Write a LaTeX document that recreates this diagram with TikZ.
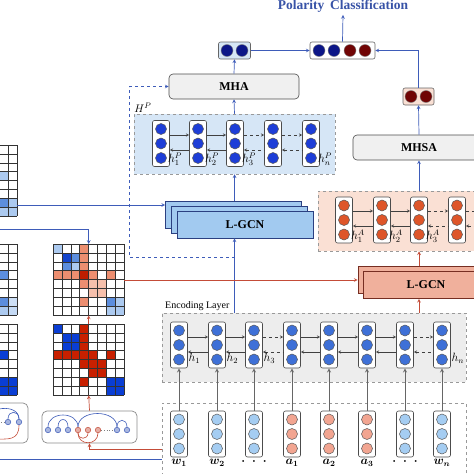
\documentclass[tikz,border=0pt]{standalone}
\usepackage{amsmath}
\usepackage{fontspec}
\setmainfont{Liberation Serif}
\usetikzlibrary{calc,arrows,positioning}

\definecolor{hpblue}{RGB}{30,62,215}
\definecolor{hablue}{RGB}{62,112,215}
\definecolor{hared}{RGB}{222,86,42}
\definecolor{inblue}{RGB}{165,205,242}
\definecolor{insal}{RGB}{242,165,145}
\definecolor{navy}{RGB}{12,22,135}
\definecolor{maroon}{RGB}{112,4,4}
\definecolor{lineblue}{RGB}{62,92,185}
\definecolor{linered}{RGB}{196,76,56}
\definecolor{gcnblue}{RGB}{162,202,240}
\definecolor{gcnred}{RGB}{240,176,156}
\definecolor{hpfill}{RGB}{214,230,246}
\definecolor{hafill}{RGB}{250,224,212}
\definecolor{mLB}{RGB}{172,202,240}
\definecolor{mMB}{RGB}{92,142,222}
\definecolor{mDB}{RGB}{18,68,205}
\definecolor{mSal}{RGB}{236,142,112}
\definecolor{mLSal}{RGB}{246,192,172}
\definecolor{mDR}{RGB}{190,30,0}
\definecolor{mBB}{RGB}{10,62,212}
\definecolor{mBR}{RGB}{200,32,0}

\tikzset{
  cellbox/.style={draw=black!70, rounded corners=2pt, fill=white, minimum width=17pt, minimum height=46pt, inner sep=0pt, line width=0.6pt},
  dot/.style={circle, draw=black!65, inner sep=0pt, minimum size=11pt, line width=0.5pt},
  bigdot/.style={circle, draw=black!50, inner sep=0pt, minimum size=12pt, line width=0.4pt},
  tdot/.style={circle, inner sep=0pt, minimum size=5.5pt, line width=0.5pt},
  layerbox/.style={draw=black!70, rounded corners=4pt, fill=black!6, inner sep=0pt, line width=0.6pt, font=\fontsize{12}{14}\selectfont\bfseries},
  gcnbox/.style={inner sep=0pt, minimum width=136pt, minimum height=27pt, line width=0.6pt, font=\fontsize{12}{14}\selectfont\bfseries},
  region/.style={draw=black!40, dashed, line width=0.5pt, inner sep=0pt},
  outbox/.style={draw=black!60, rounded corners=2pt, line width=0.6pt, minimum height=17pt, inner sep=0pt},
  gridline/.style={draw=black!80, line width=0.45pt},
  blueline/.style={draw=lineblue, line width=0.7pt},
  redline/.style={draw=linered, line width=0.7pt},
  lab/.style={inner sep=0pt, font=\fontsize{12}{12}\selectfont},
  >=stealth
}

% column of three circles in a rounded cell
\newcommand{\vcell}[4]{%
  \node[cellbox] (#1) at (#2,#3) {};
  \node[dot,fill=#4] (#1-1) at (#2,#3-14.5) {};
  \node[dot,fill=#4] (#1-2) at (#2,#3) {};
  \node[dot,fill=#4] (#1-3) at (#2,#3+14.5) {};
}

% 8x8 adjacency matrix
\def\cs{8.875}
\newcommand{\gridmat}[4]{%
  \node[inner sep=0pt, minimum size=71pt, anchor=north west] (#1) at (#2,#3) {};
  \foreach \r/\c/\cl in {#4} \fill[\cl] (#2+\c*\cs,#3+\r*\cs) rectangle +(\cs,\cs);
  \foreach \k in {0,...,8} {
    \draw[gridline] (#2+\k*\cs,#3) -- +(0,8*\cs);
    \draw[gridline] (#2,#3+\k*\cs) -- +(8*\cs,0);
  }
}

\begin{document}
\begin{tikzpicture}[x=1pt,y=-1pt]
\useasboundingbox (0,0) rectangle (474,474);
\clip (0,0) rectangle (474,474);

%regions
\node[region, fill=hpfill, minimum width=201pt, minimum height=60pt] (hp) at (234.5,144) {};
\node[region, fill=hafill, minimum width=202pt, minimum height=60pt] (ha) at (419,221) {};
\node[region, fill=black!7, minimum width=304pt, minimum height=69pt] (enc) at (314,347.5) {};
\node[region, fill=white, minimum width=304pt, minimum height=90pt] (inp) at (314,448) {};
\node[anchor=south west, inner sep=0pt, font=\fontsize{10}{10}\selectfont] (enclab) at (165,311) {Encoding Layer};
\node[inner sep=0pt, font=\fontsize{11}{11}\selectfont] (hplab) at (143,108) {$H^P$};

%input layer
\foreach \i/\x/\c/\t in {1/179/inblue/{$w_1$},2/217/inblue/{$w_2$},3/254/inblue/{$\cdot\;\cdot\;\cdot$},4/292/insal/{$a_1$},5/329/insal/{$a_2$},6/367/insal/{$a_3$},7/405/inblue/{$\cdot\;\cdot\;\cdot$},8/442/inblue/{$w_n$}} {
  \vcell{w\i}{\x}{434}{\c}
  \node[below=1.5pt of w\i, inner sep=0pt, font=\fontsize{11.5}{11.5}\selectfont\boldmath] (wl\i) {\t};
}

%encoding layer
\foreach \i/\x in {1/179,2/217,3/254,4/292,5/329,6/367,7/405,8/442} {
  \vcell{e\i}{\x}{345}{hablue}
  \draw[->, draw=black!60, line width=0.9pt] (w\i.north) -- (e\i.south);
}
\foreach \i/\j/\s in {1/2/solid,2/3/solid,3/4/dashed,4/5/solid,5/6/solid,6/7/solid,7/8/dashed} {
  \draw[->, black!75, \s, line width=0.5pt] ([yshift=8pt]e\i.east) -- ([yshift=8pt]e\j.west);
  \draw[<-, black!75, \s, line width=0.5pt] ([yshift=-7pt]e\i.east) -- ([yshift=-7pt]e\j.west);
}
\foreach \i/\t in {1/{$h_1$},2/{$h_2$},3/{$h_3$},8/{$h_n$}}
  \node[lab, anchor=west] (el\i) at ([xshift=0.5pt,yshift=-13pt]e\i.east) {\t};

%H^P
\foreach \i/\x in {1/161,2/198,3/235,4/273,5/311} {
  \vcell{p\i}{\x}{143.5}{hpblue}
}
\foreach \i/\j/\s in {1/2/solid,2/3/solid,3/4/dashed,4/5/dashed} {
  \draw[->, black!75, \s, line width=0.5pt] ([yshift=8.5pt]p\i.east) -- ([yshift=8.5pt]p\j.west);
  \draw[<-, black!75, \s, line width=0.5pt] ([yshift=-6.5pt]p\i.east) -- ([yshift=-6.5pt]p\j.west);
}
\foreach \i/\t in {1/{$h_1^P$},2/{$h_2^P$},3/{$h_3^P$},5/{$h_n^P$}}
  \node[lab, anchor=west] (pl\i) at ([xshift=-2pt,yshift=-16pt]p\i.east) {\t};

%H^A
\foreach \i/\x in {1/344,2/382,3/419,4/457} {
  \vcell{a\i}{\x}{220}{hared}
}
\coordinate (aend) at ([xshift=25pt]a4.east);
\foreach \i/\j/\s in {1/2/solid,2/3/solid,3/4/dashed} {
  \draw[->, black!75, \s, line width=0.5pt] ([yshift=9pt]a\i.east) -- ([yshift=9pt]a\j.west);
  \draw[<-, black!75, \s, line width=0.5pt] ([yshift=-6pt]a\i.east) -- ([yshift=-6pt]a\j.west);
}
\draw[->, black!75, dashed, line width=0.5pt] ([yshift=9pt]a4.east) -- ([yshift=9pt]aend);
\draw[<-, black!75, dashed, line width=0.5pt] ([yshift=-6pt]a4.east) -- ([yshift=-6pt]aend);
\foreach \i/\t in {1/{$h_1^A$},2/{$h_2^A$},3/{$h_3^A$}}
  \node[lab, anchor=west] (al\i) at ([xshift=-2pt,yshift=-16pt]a\i.east) {\t};

%L-GCN blue
\node[gcnbox, fill=gcnblue, draw=lineblue!70!black] (lg3) at (233.5,214.5) {};
\node[gcnbox, fill=gcnblue, draw=lineblue!70!black] (lg2) at (239,219.5) {};
\node[gcnbox, fill=gcnblue, draw=lineblue!70!black] (lg1) at (245,224.5) {L-GCN};
%L-GCN red
\node[gcnbox, minimum width=126pt, fill=gcnred, draw=linered!60!black] (lr2) at (421,280) {};
\node[gcnbox, minimum width=126pt, fill=gcnred, draw=linered!60!black] (lr1) at (426,285) {L-GCN};

%attention
\node[layerbox, minimum width=130pt, minimum height=25pt] (mha) at (234,86.5) {MHA};
\node[layerbox, minimum width=132pt, minimum height=25pt] (msa) at (419,147.5) {MHSA};

%outputs
\node[outbox, fill=hpfill, minimum width=32pt] (pout) at (234.5,50.5) {};
\node[bigdot, fill=navy] (pout-1) at (227,50.5) {};
\node[bigdot, fill=navy] (pout-2) at (242,50.5) {};
\node[outbox, fill=white, minimum width=65pt] (cat) at (342.5,50.5) {};
\foreach \i/\x/\c in {1/319/navy,2/334/navy,3/350/maroon,4/365/maroon}
  \node[bigdot, fill=\c] (cat-\i) at (\x,50.5) {};
\node[outbox, fill=hafill, minimum width=31pt] (aout) at (418.5,96.5) {};
\node[bigdot, fill=maroon] (aout-1) at (411,96.5) {};
\node[bigdot, fill=maroon] (aout-2) at (426,96.5) {};
\node[inner sep=2pt, text=lineblue!90!black, font=\fontsize{13.5}{15}\selectfont\bfseries] (pol) at (343,6.5) {Polarity\, Classification};

%connections top
\draw[->, blueline] (cat.north) -- (pol.south);
\draw[->, blueline] (pout.east) -- (cat.west);
\draw[->, blueline] (aout.north) |- (cat.east);
\draw[->, blueline] (msa.north) -- (aout.south);
\draw[->, blueline] (mha.north) -- (pout.south);
\draw[->, blueline] (hp.north) -- (mha.south);
\draw[->, blueline] (lg3.north -| hp) -- (hp.south);
\draw[->, blueline] (enc.north -| hp) -- (lg1.south -| hp);
\coordinate (res) at (234.5,257);
\coordinate (rescorner) at (129,86.5);
\draw[->, blueline, dashed] (res) -| (rescorner) -- (mha.west);
\draw[->, blueline] (ha.north) -- (msa.south);
\draw[->, redline] (lr2.north -| ha) -- (ha.south);
\draw[->, redline] (enc.north -| ha) -- (lr1.south -| ha);

%matrices left
\gridmat{matA}{-54}{145}{3/6/mLB,6/6/mMB,6/7/mLB,7/6/mLB,7/7/mLB}
\gridmat{matB}{-54}{244}{3/6/mMB,6/6/mMB,6/7/mLB!60,7/6/mLB,7/7/mLB!70}
\gridmat{matC}{-54}{324}{3/6/mBB,6/6/mBB,6/7/mBB,7/6/mBB,7/7/mBB}
%matrices middle
\gridmat{softm}{53}{244}{0/0/mLB,0/3/mSal,1/1/mDB,1/2/mMB,1/3/mSal,2/1/mMB,2/2/mLB,2/3/mSal,3/0/mSal,3/1/mSal,3/2/mSal,3/3/mDR,3/4/mSal,3/6/mSal,4/3/mSal,4/4/mLSal,4/5/mLSal,5/4/mLSal,5/5/mLSal,6/3/mSal,6/6/mMB,6/7/mLB,7/6/mLB,7/7/mLB}
\gridmat{hardm}{53}{324}{0/0/mBB,0/3/mBR,1/1/mBB,1/2/mBB,1/3/mBR,2/1/mBB,2/2/mBB,2/3/mBR,3/0/mBR,3/1/mBR,3/2/mBR,3/3/mBR,3/4/mBR,3/6/mBR,4/3/mBR,4/4/mBR,4/5/mBR,5/4/mBR,5/5/mBR,6/3/mBR,6/6/mBB,6/7/mBB,7/6/mBB,7/7/mBB}

%dependency trees
\node[draw=black!45, rounded corners=5pt, fill=white, line width=0.7pt, minimum width=95pt, minimum height=32pt, inner sep=0pt] (tree) at (89.5,427) {};
\foreach \i/\x/\c in {1/48/lineblue,2/58/lineblue,3/68/lineblue,4/78/linered,5/88/linered,6/98/linered,7/117/lineblue,8/127/lineblue}
  \node[tdot, draw=\c, fill=\c!45] (t\i) at (\x,430) {};
\draw[black!50, dotted, line width=0.8pt] (t6.east) -- (t7.west);
\draw[lineblue, line width=0.6pt] (t1.north) .. controls +(0,-16) and +(0,-16) .. (t4.north);
\draw[lineblue, line width=0.6pt] (t2.north) .. controls +(0,-10) and +(0,-10) .. (t3.north);
\draw[lineblue, line width=0.6pt] (t4.north) .. controls +(0,-18) and +(0,-18) .. (t7.north);
\draw[lineblue, line width=0.6pt] (t7.north) .. controls +(0,-9) and +(0,-9) .. (t8.north);
\draw[linered, line width=0.6pt] (t4.south) .. controls +(0,7) and +(0,7) .. (t5.south);
\draw[linered, line width=0.6pt] (t4.south) .. controls +(0,13) and +(0,13) .. (t6.south);

\node[draw=black!45, rounded corners=5pt, fill=white, line width=0.7pt, minimum width=48pt, minimum height=40pt, inner sep=0pt] (ltree) at (4,423) {};
\node[tdot, draw=lineblue, fill=lineblue!45] (lt1) at (8,422) {};
\node[tdot, draw=lineblue, fill=lineblue!45] (lt2) at (19,422) {};
\coordinate (lta) at (-14,422);
\coordinate (ltb) at (-6,439);
\draw[black!50, dotted, line width=0.8pt] (-2,422) -- (lt1.west);
\draw[lineblue, line width=0.6pt] (lta) .. controls +(0,-16) and +(0,-16) .. (lt2.north);
\draw[lineblue, line width=0.6pt] (lt1.north) .. controls +(0,-9) and +(0,-9) .. (lt2.north);
\draw[linered, line width=0.6pt] (lt2.south) .. controls +(0,16) and +(14,0) .. (ltb);

%connections left
\coordinate (tlout) at (17,205);
\draw[->, blueline] (tlout) -- (tlout -| lg3.west);
\coordinate (blin) at (0,229);
\draw[->, blueline] (blin) -| (softm.north);
\coordinate (mout) at (124,280);
\draw[->, redline] (mout) -- (mout -| lr2.west);
\draw[->, redline] (hardm.north) -- (softm.south);
\draw[->, redline] (tree.north) -- (hardm.south);
\draw[->, redline] ([yshift=-1pt]inp.west) -| (tree.south);
\coordinate (blbot) at (0,459);
\draw[blueline] ([yshift=-11pt]inp.west) -- (blbot);
\end{tikzpicture}
\end{document}
